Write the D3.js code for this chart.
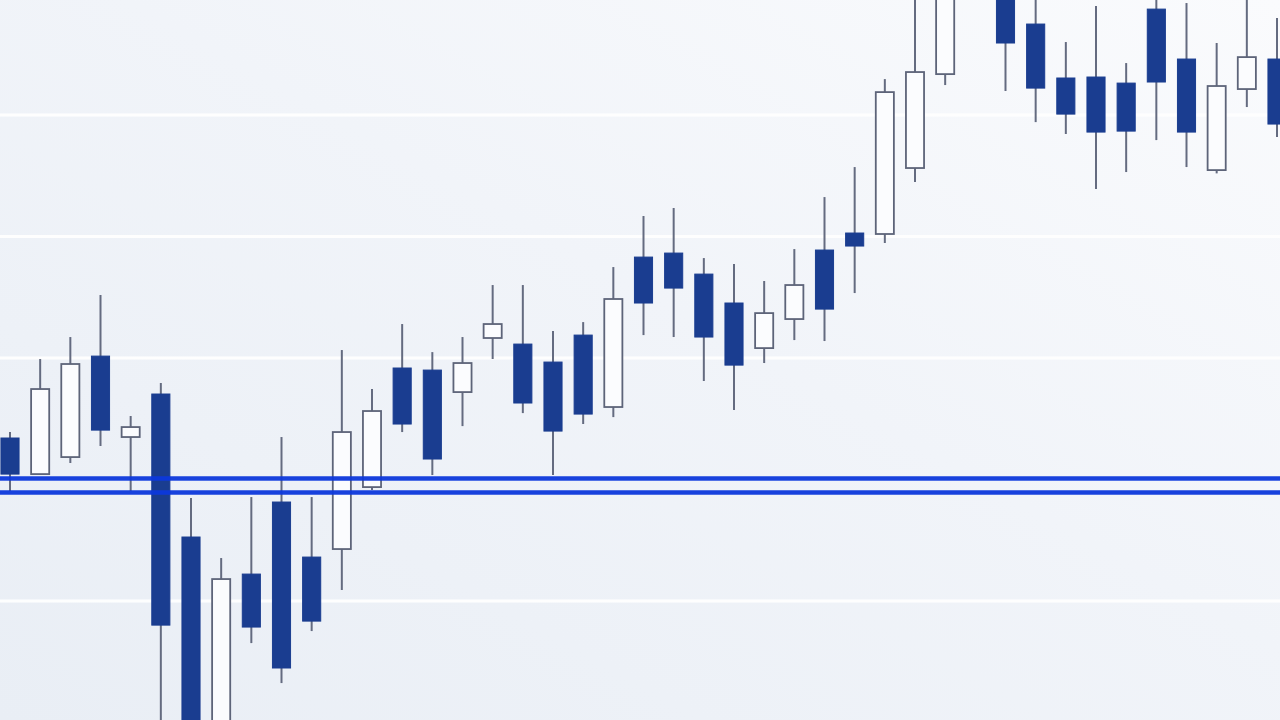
<!DOCTYPE html>
<html>
<head>
<meta charset="utf-8">
<script src="https://cdn.jsdelivr.net/npm/d3@7"></script>
<style>
  html, body { margin: 0; padding: 0; background: #eef2f7; }
  svg { display: block; }
</style>
</head>
<body>
<svg id="chart" width="1280" height="720"></svg>
<script>
// ---- data ----
const categories = d3.range(1, 44).map(i => "C" + i);
const opens  = [113.42,110.45,111.85,120.16,113.50,117.04,105.27, 88.50,102.22,108.15,103.62,104.28,109.38,119.18,119.01,117.20,121.65,121.15,119.67,121.89,115.97,128.31,128.64,126.91,124.53,120.82,123.21,128.89,130.29,130.21,135.64,143.37,152.00,152.00,147.49,143.05,143.13,142.63,148.72,144.61,135.47,142.14,144.61];
const closes = [110.45,117.45,119.51,114.07,114.32, 98.02, 88.00,101.81, 97.86, 94.49, 98.35,113.91,115.64,114.57,111.69,119.59,122.80,116.30,113.99,115.39,124.86,124.53,125.76,121.73,119.42,123.70,126.01,124.03,129.22,141.89,143.54,151.00,155.00,145.93,142.22,140.08,138.60,138.68,142.72,138.60,142.39,144.77,139.26];
const highs  = [113.91,119.92,121.73,125.19,115.23,117.94,108.48,103.54,108.56,113.50,108.56,120.66,117.45,122.80,120.49,121.73,126.01,126.01,122.22,122.96,127.49,131.69,132.35,128.23,127.74,126.34,128.97,133.25,135.72,142.96,151.00,153.00,157.00,154.00,150.50,146.01,148.97,144.28,149.60,149.22,145.93,149.60,147.98];
const lows   = [109.05,110.45,111.36,112.76,109.05, 88.50, 87.00, 88.00, 96.54, 93.25, 97.53,100.91,109.14,113.91,110.37,114.40,119.92,115.47,110.37,114.57,115.14,121.89,121.73,118.11,115.72,119.59,121.48,121.40,125.35,129.47,134.49,142.47,150.20,141.98,139.42,138.44,133.91,135.31,137.94,135.72,135.20,140.66,138.19];
const gridTicks = [100, 110, 120, 130, 140];
const supportLevels = [110.08, 108.93];

const rows = categories.map((c, i) => ({ c, o: opens[i], cl: closes[i], h: highs[i], l: lows[i] }));

// ---- layout ----
const W = 1280, H = 720;
const svg = d3.select("#chart");

const x = d3.scalePoint().domain(categories).range([10, 1277]);
const y = d3.scaleLinear().domain([90.21, 149.47]).range([H, 0]);
const bodyW = x.step() * 0.6;

// background gradient
const defs = svg.append("defs");
const grad = defs.append("linearGradient").attr("id", "bg")
  .attr("x1", "0%").attr("y1", "100%").attr("x2", "100%").attr("y2", "0%");
grad.append("stop").attr("offset", "0%").attr("stop-color", "#e9eef5");
grad.append("stop").attr("offset", "55%").attr("stop-color", "#f1f4f9");
grad.append("stop").attr("offset", "100%").attr("stop-color", "#fafbfd");
defs.append("clipPath").attr("id", "clip").append("rect").attr("width", W).attr("height", H);

svg.append("rect").attr("width", W).attr("height", H).attr("fill", "url(#bg)");

// grid lines
svg.append("g").selectAll("line").data(gridTicks).join("line")
  .attr("x1", 0).attr("x2", W)
  .attr("y1", d => y(d)).attr("y2", d => y(d))
  .attr("stroke", "#ffffff").attr("stroke-width", 3).attr("opacity", 0.95);

const g = svg.append("g").attr("clip-path", "url(#clip)");

// wicks
g.append("g").selectAll("line").data(rows).join("line")
  .attr("x1", d => x(d.c)).attr("x2", d => x(d.c))
  .attr("y1", d => y(d.h)).attr("y2", d => y(d.l))
  .attr("stroke", "#646b80").attr("stroke-width", 2);

// bodies
g.append("g").selectAll("rect").data(rows).join("rect")
  .attr("x", d => x(d.c) - bodyW / 2)
  .attr("width", bodyW)
  .attr("y", d => y(Math.max(d.o, d.cl)))
  .attr("height", d => Math.max(1, Math.abs(y(d.o) - y(d.cl))))
  .attr("fill", d => d.cl < d.o ? "#1a3d90" : "#fbfcfe")
  .attr("stroke", d => d.cl < d.o ? "#1a3d90" : "#5d6479")
  .attr("stroke-width", d => d.cl < d.o ? 1 : 1.8);

// support lines
svg.append("g").selectAll("line").data(supportLevels).join("line")
  .attr("x1", 0).attr("x2", W)
  .attr("y1", d => y(d)).attr("y2", d => y(d))
  .attr("stroke", "#0c38dc").attr("stroke-width", 4.5).attr("opacity", 0.95);
</script>
</body>
</html>
